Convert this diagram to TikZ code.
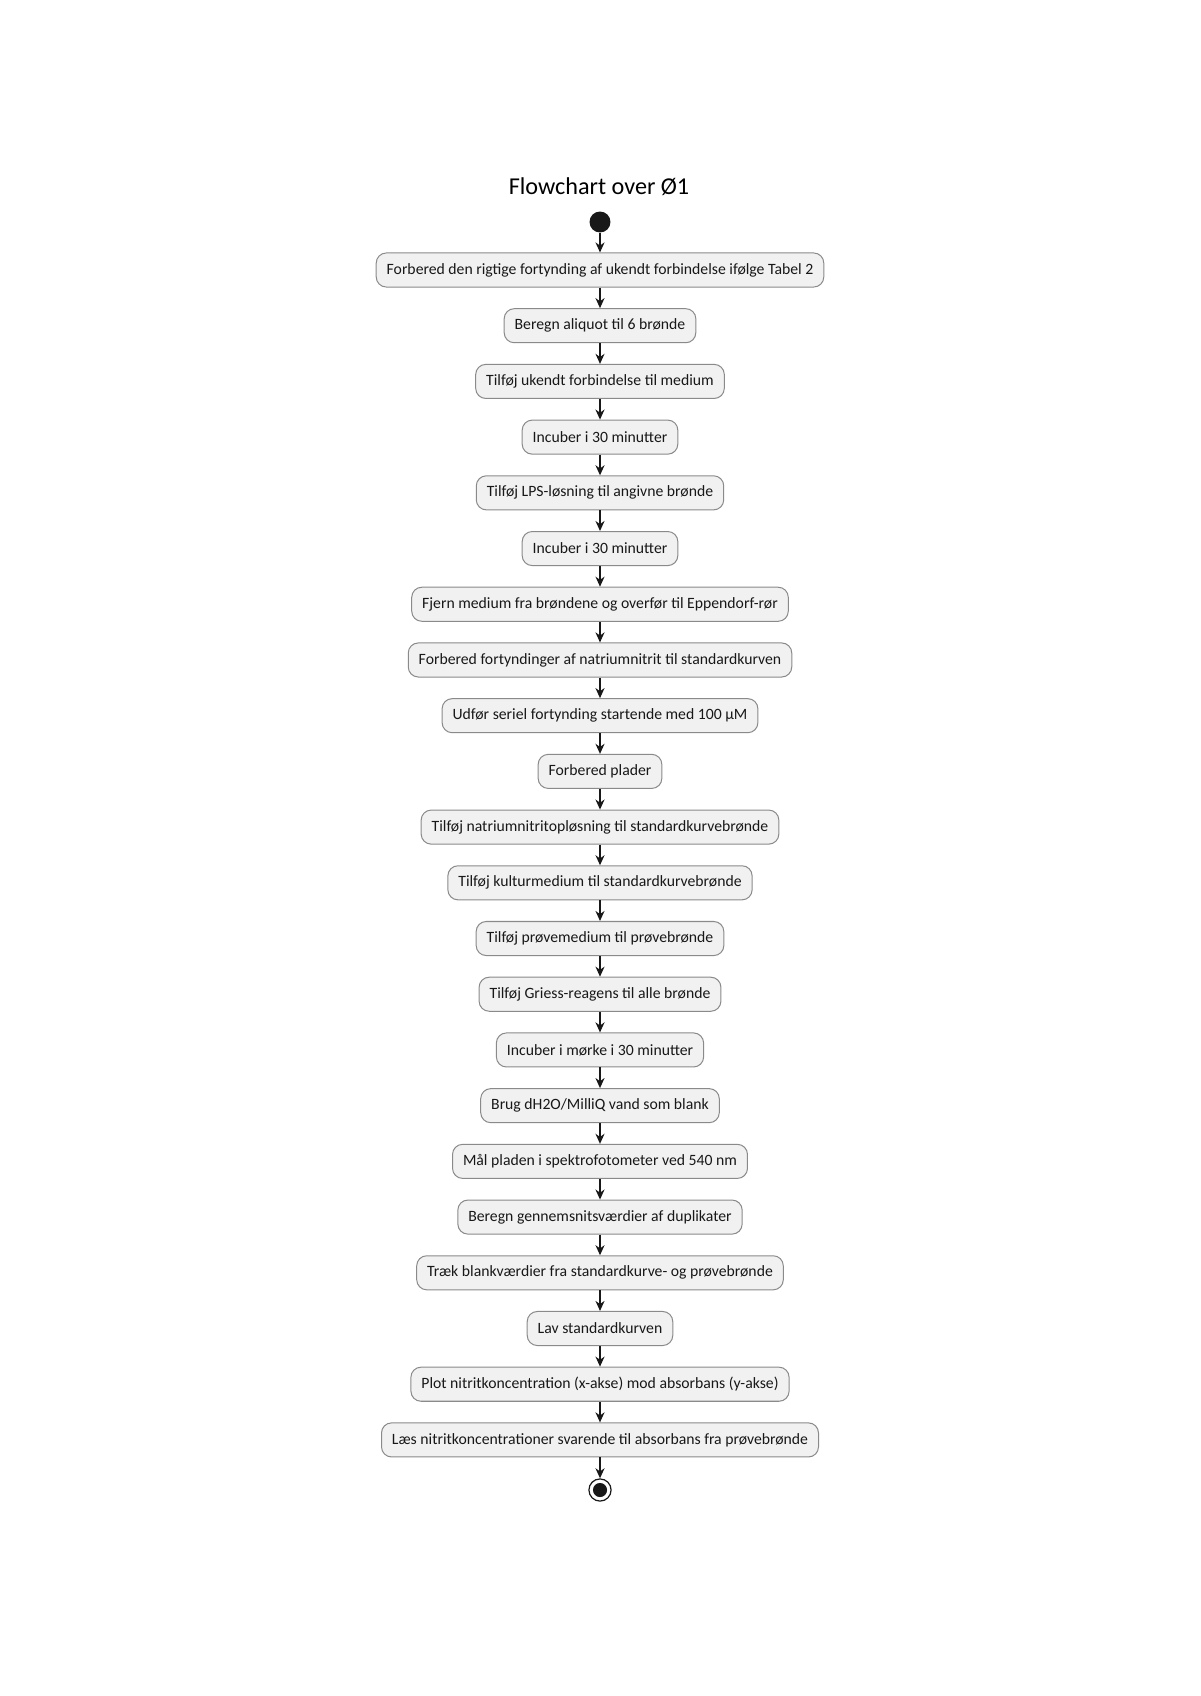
\documentclass[tikz,border=0pt]{standalone}
\usepackage{fontspec}
\setmainfont{Carlito}
\usetikzlibrary{arrows.meta}
\definecolor{boxfill}{HTML}{F1F1F1}
\definecolor{boxline}{HTML}{8A8A8A}
\definecolor{inkdark}{HTML}{181818}
\tikzset{
  stepbox/.style={draw=boxline, line width=0.5pt, fill=boxfill, rounded corners=5pt,
    minimum height=16.9pt, inner xsep=5.2pt, inner ysep=0pt, font=\fontsize{7.8}{9}\selectfont,
    text=inkdark, anchor=center},
  flow/.style={draw=inkdark, line width=0.7pt, -{Stealth[length=5pt,width=4.5pt,inset=1.6pt]}},
  titletext/.style={font=\fontsize{12}{14}\selectfont, text=black}
}
\begin{document}
\begin{tikzpicture}[x=0.4961pt,y=-0.4961pt]
\useasboundingbox (0,0) rectangle (1200,1696);
\node[titletext] (title) at (599,187) {Flowchart over Ø1};
\node[circle, fill=inkdark, inner sep=0pt, minimum size=10.4pt] (start) at (600,222) {};
\foreach \i/\t in {
 1/{Forbered den rigtige fortynding af ukendt forbindelse ifølge Tabel 2},
 2/{Beregn aliquot til 6 brønde},
 3/{Tilføj ukendt forbindelse til medium},
 4/{Incuber i 30 minutter},
 5/{Tilføj LPS-løsning til angivne brønde},
 6/{Incuber i 30 minutter},
 7/{Fjern medium fra brøndene og overfør til Eppendorf-rør},
 8/{Forbered fortyndinger af natriumnitrit til standardkurven},
 9/{Udfør seriel fortynding startende med 100 µM},
 10/{Forbered plader},
 11/{Tilføj natriumnitritopløsning til standardkurvebrønde},
 12/{Tilføj kulturmedium til standardkurvebrønde},
 13/{Tilføj prøvemedium til prøvebrønde},
 14/{Tilføj Griess-reagens til alle brønde},
 15/{Incuber i mørke i 30 minutter},
 16/{Brug dH2O/MilliQ vand som blank},
 17/{Mål pladen i spektrofotometer ved 540 nm},
 18/{Beregn gennemsnitsværdier af duplikater},
 19/{Træk blankværdier fra standardkurve- og prøvebrønde},
 20/{Lav standardkurven},
 21/{Plot nitritkoncentration (x-akse) mod absorbans (y-akse)},
 22/{Læs nitritkoncentrationer svarende til absorbans fra prøvebrønde}}
{
  \node[stepbox] (s\i) at (600,{270+55.71*(\i-1)}) {\t};
}
\node[circle, draw=inkdark, line width=0.6pt, fill=white, inner sep=0pt, minimum size=11pt] (stop) at (600,1490) {};
\node[circle, fill=inkdark, inner sep=0pt, minimum size=7pt] (stopdot) at (600,1490) {};
\draw[flow] (start) -- (s1);
\foreach \i [evaluate=\i as \j using int(\i+1)] in {1,...,21} {
  \draw[flow] (s\i) -- (s\j);
}
\draw[flow] (s22) -- (stop);
\end{tikzpicture}
\end{document}
